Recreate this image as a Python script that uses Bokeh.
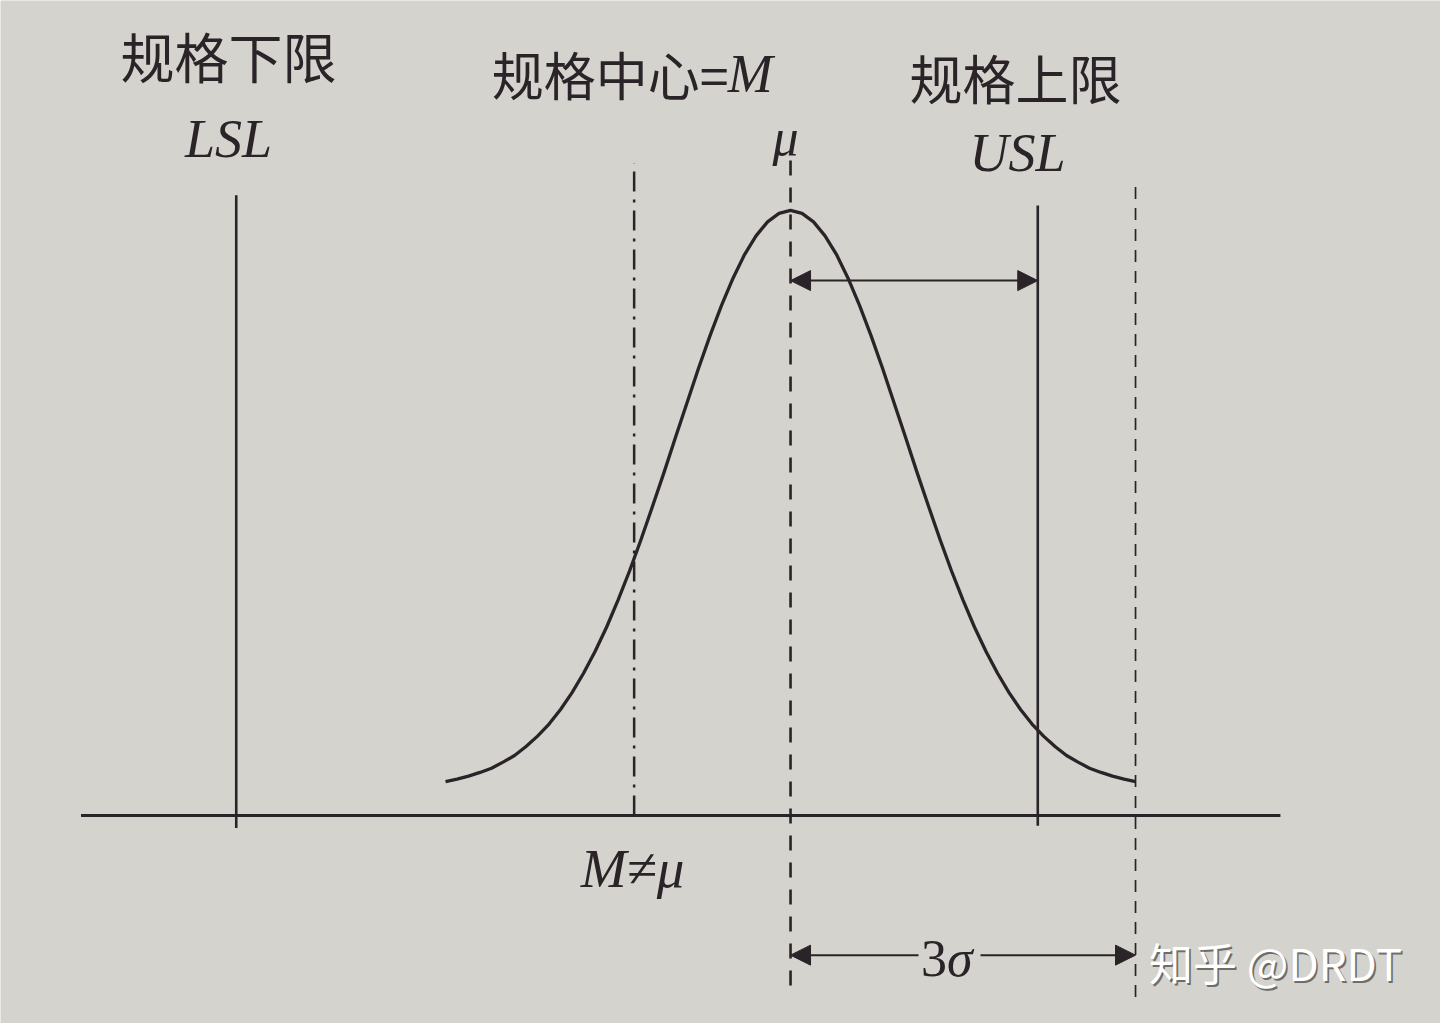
from bokeh.plotting import figure
from bokeh.models import Arrow, NormalHead, Range1d
from bokeh.core.properties import value
from bokeh.embed import file_html
from bokeh.resources import INLINE

# ---------------- data (x in sigma units measured from mu; y relative to the axis, peak = 1) -------------
curve_x = [-3.0, -2.9, -2.8, -2.7, -2.6, -2.5, -2.4, -2.3, -2.2, -2.1, -2.0, -1.9, -1.8, -1.7, -1.6,
           -1.5, -1.4, -1.3, -1.2, -1.1, -1.0, -0.9, -0.8, -0.7, -0.6, -0.5, -0.4, -0.3, -0.2, -0.1,
           0.0, 0.1, 0.2, 0.3, 0.4, 0.5, 0.6, 0.7, 0.8, 0.9, 1.0, 1.1, 1.2, 1.3, 1.4, 1.5, 1.6, 1.7,
           1.8, 1.9, 2.0, 2.1, 2.2, 2.3, 2.4, 2.5, 2.6, 2.7, 2.8, 2.9, 3.0]
curve_y = [0.056, 0.060, 0.065, 0.071, 0.078, 0.088, 0.099, 0.114, 0.131, 0.151, 0.175, 0.203, 0.235,
           0.271, 0.311, 0.356, 0.404, 0.456, 0.511, 0.567, 0.625, 0.682, 0.739, 0.793, 0.843, 0.888,
           0.927, 0.958, 0.981, 0.995, 1.000, 0.995, 0.981, 0.958, 0.927, 0.888, 0.843, 0.793, 0.739,
           0.682, 0.625, 0.567, 0.511, 0.456, 0.404, 0.356, 0.311, 0.271, 0.235, 0.203, 0.175, 0.151,
           0.131, 0.114, 0.099, 0.088, 0.078, 0.071, 0.065, 0.060, 0.056]

line_names = ["LSL", "M", "mu", "USL", "mu+3sigma"]
line_x = [-4.82, -1.36, 0.0, 2.15, 3.0]

labels_cn = ["规格下限", "规格中心=", "规格上限"]
labels_sym = ["LSL", "M", "μ", "USL", "M≠μ", "3", "σ"]
watermark = "知乎 @DRDT"

# ---------------- styling / layout ----------------
INK = "#2a2328"
BG = "#d5d3ce"
CJK = value("Noto Sans CJK SC")
SERIF = value("Liberation Serif")

p = figure(width=1440, height=1023, output_backend="svg", toolbar_location=None,
           x_range=Range1d(-6.870, 5.652), y_range=Range1d(-0.344, 1.347),
           x_axis_type=None, y_axis_type=None, min_border=0,
           background_fill_color=BG, border_fill_color=BG, outline_line_color=None)
p.grid.visible = False

LSL, M, MU, USL, S3 = line_x

# baseline axis
p.segment(x0=[-6.17], y0=[0.0], x1=[4.26], y1=[0.0], line_color=INK, line_width=3)

# spec limits (solid)
p.segment(x0=[LSL], y0=[-0.021], x1=[LSL], y1=[1.025], line_color=INK, line_width=2.6)
p.segment(x0=[USL], y0=[-0.017], x1=[USL], y1=[1.008], line_color=INK, line_width=2.6)
# spec centre (dash-dot)
p.segment(x0=[M], y0=[0.0], x1=[M], y1=[1.078], line_color=INK, line_width=2.5,
          line_dash="20 8 3 8")
# mean (dashed)
p.segment(x0=[MU], y0=[-0.281], x1=[MU], y1=[1.083], line_color=INK, line_width=2.6,
          line_dash="15 12")
# mu + 3 sigma (fine dashed)
p.segment(x0=[S3], y0=[-0.30], x1=[S3], y1=[1.05], line_color=INK, line_width=1.7,
          line_dash="12 9")

# distribution curve
p.line(curve_x, curve_y, line_color=INK, line_width=3.3, line_join="round")

# arrows
def head():
    return NormalHead(size=20, fill_color=INK, line_color=INK, line_width=1)

p.add_layout(Arrow(start=head(), end=head(), x_start=MU, y_start=0.884, x_end=USL, y_end=0.884,
                   line_color=INK, line_width=2))
p.add_layout(Arrow(end=head(), x_start=1.113, y_start=-0.231, x_end=MU, y_end=-0.231,
                   line_color=INK, line_width=2))
p.add_layout(Arrow(end=head(), x_start=1.652, y_start=-0.231, x_end=S3, y_end=-0.231,
                   line_color=INK, line_width=2))

# Chinese labels
p.text(x=[-4.887], y=[1.256], text=[labels_cn[0]], text_font=CJK, text_font_size="54px",
       text_color=INK, text_align="center", text_baseline="middle")
p.text(x=[-0.539], y=[1.226], text=[labels_cn[1]], text_font=CJK, text_font_size="52px",
       text_color=INK, text_align="right", text_baseline="middle")
p.text(x=[1.957], y=[1.221], text=[labels_cn[2]], text_font=CJK, text_font_size="53px",
       text_color=INK, text_align="center", text_baseline="middle")

# symbol labels (italic serif)
p.text(x=[-0.545], y=[1.226], text=[labels_sym[1]], text_font=SERIF, text_font_style="italic",
       text_font_size="54px", text_color=INK, text_align="left", text_baseline="middle")
p.text(x=[-4.887], y=[1.118], text=[labels_sym[0]], text_font=SERIF, text_font_style="italic",
       text_font_size="54px", text_color=INK, text_align="center", text_baseline="middle")
p.text(x=[-0.043], y=[1.120], text=[labels_sym[2]], text_font=SERIF, text_font_style="italic",
       text_font_size="52px", text_color=INK, text_align="center", text_baseline="middle")
p.text(x=[1.974], y=[1.095], text=[labels_sym[3]], text_font=SERIF, text_font_style="italic",
       text_font_size="54px", text_color=INK, text_align="center", text_baseline="middle")
p.text(x=[-1.374], y=[-0.088], text=[labels_sym[4]], text_font=SERIF, text_font_style="italic",
       text_font_size="55px", text_color=INK, text_align="center", text_baseline="middle")
p.text(x=[1.36], y=[-0.236], text=[labels_sym[5]], text_font=SERIF,
       text_font_size="52px", text_color=INK, text_align="right", text_baseline="middle")
p.text(x=[1.36], y=[-0.236], text=[labels_sym[6]], text_font=SERIF, text_font_style="italic",
       text_font_size="52px", text_color=INK, text_align="left", text_baseline="middle")

# watermark: white with grey shadow
p.text(x=[4.217 + 0.015], y=[-0.243 - 0.003], text=[watermark], text_font=value("Noto Sans CJK SC"),
       text_font_size="44px", text_color="#6f6d69", text_align="center", text_baseline="middle")
p.text(x=[4.217], y=[-0.243], text=[watermark], text_font=value("Noto Sans CJK SC"),
       text_font_size="44px", text_color="#ffffff", text_align="center", text_baseline="middle")

open("out.html", "w").write(file_html(p, INLINE))
